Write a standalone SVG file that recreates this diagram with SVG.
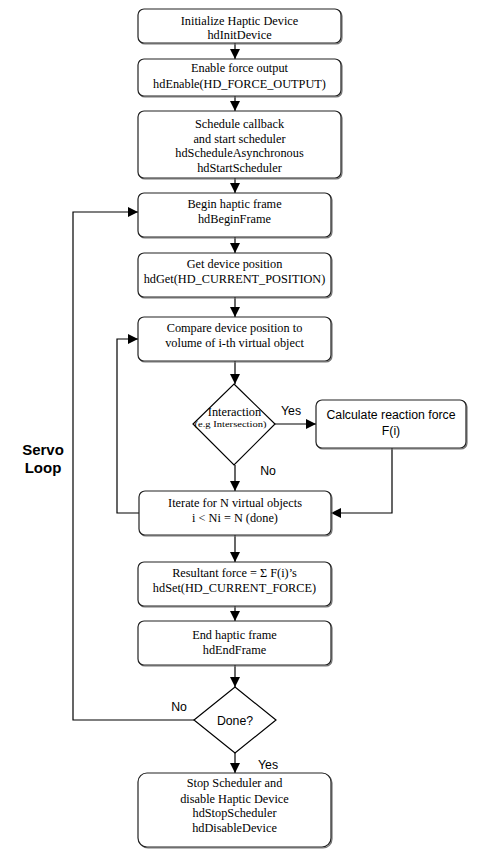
<svg xmlns="http://www.w3.org/2000/svg" width="486" height="851" viewBox="0 0 486 851">
<style>
.box{fill:#fff;stroke:#222;stroke-width:1.2}
.sh{fill:none;stroke:#777;stroke-width:1.2}
.t{font-family:"Liberation Serif","Times New Roman",serif;font-size:12.3px;fill:#000;text-anchor:middle}
.a{font-family:"Liberation Sans",Arial,sans-serif;font-size:12.3px;fill:#000;text-anchor:middle}
.c{fill:none;stroke:#000;stroke-width:1.2}
</style>
<defs>
<marker id="ah" markerUnits="userSpaceOnUse" markerWidth="11" markerHeight="10" refX="10" refY="5" orient="auto">
<path d="M0,0 L10,5 L0,10 Z" fill="#000"/>
</marker>
</defs>
<rect width="486" height="851" fill="#fff"/>
<g id="connectors">
<path class="c" d="M235,43 V59" marker-end="url(#ah)"/>
<path class="c" d="M235,96 V111" marker-end="url(#ah)"/>
<path class="c" d="M235,178 V193" marker-end="url(#ah)"/>
<path class="c" d="M235,237 V253" marker-end="url(#ah)"/>
<path class="c" d="M235,297 V317" marker-end="url(#ah)"/>
<path class="c" d="M235,361 V384" marker-end="url(#ah)"/>
<path class="c" d="M235,465 V491" marker-end="url(#ah)"/>
<path class="c" d="M235,535 V562" marker-end="url(#ah)"/>
<path class="c" d="M235,606 V621" marker-end="url(#ah)"/>
<path class="c" d="M235,665 V687" marker-end="url(#ah)"/>
<path class="c" d="M235,753 V773" marker-end="url(#ah)"/>
<path class="c" d="M275,424 H316" marker-end="url(#ah)"/>
<path class="c" d="M392,448 V513 H331" marker-end="url(#ah)"/>
<path class="c" d="M139,513 H117 V339 H138" marker-end="url(#ah)"/>
<path class="c" d="M194,720 H73 V212 H138" marker-end="url(#ah)"/>
<text class="a" x="291" y="415">Yes</text>
<text class="a" x="268" y="475">No</text>
<text class="a" x="179" y="711">No</text>
<text class="a" x="268" y="769">Yes</text>
</g>
<g id="servo-label">
<text class="a" x="43" y="455" style="font-weight:bold;font-size:15px">Servo</text>
<text class="a" x="43" y="473" style="font-weight:bold;font-size:15px">Loop</text>
</g>
<g id="n1">
<rect class="sh" x="139" y="10" width="203" height="34" rx="6"/>
<rect class="box" x="138" y="9" width="203" height="34" rx="6"/>
<text class="t" x="239.5" y="25">Initialize Haptic Device</text>
<text class="t" x="239.5" y="39">hdInitDevice</text>
</g>
<g id="n2">
<rect class="sh" x="139" y="60" width="203" height="37" rx="6"/>
<rect class="box" x="138" y="59" width="203" height="37" rx="6"/>
<text class="t" x="239.5" y="72">Enable force output</text>
<text class="t" x="239.5" y="88">hdEnable(HD_FORCE_OUTPUT)</text>
</g>
<g id="n3">
<rect class="sh" x="139" y="112" width="203" height="67" rx="6"/>
<rect class="box" x="138" y="111" width="203" height="67" rx="6"/>
<text class="t" x="239.5" y="128">Schedule callback</text>
<text class="t" x="239.5" y="143">and start scheduler</text>
<text class="t" x="239.5" y="157">hdScheduleAsynchronous</text>
<text class="t" x="239.5" y="172">hdStartScheduler</text>
</g>
<g id="n4">
<rect class="sh" x="139" y="194" width="193" height="44" rx="6"/>
<rect class="box" x="138" y="193" width="193" height="44" rx="6"/>
<text class="t" x="234.5" y="208">Begin haptic frame</text>
<text class="t" x="234.5" y="223">hdBeginFrame</text>
</g>
<g id="n5">
<rect class="sh" x="139" y="254" width="193" height="44" rx="6"/>
<rect class="box" x="138" y="253" width="193" height="44" rx="6"/>
<text class="t" x="234.5" y="268">Get device position</text>
<text class="t" x="234.5" y="283">hdGet(HD_CURRENT_POSITION)</text>
</g>
<g id="n6">
<rect class="sh" x="139" y="318" width="193" height="44" rx="6"/>
<rect class="box" x="138" y="317" width="193" height="44" rx="6"/>
<text class="t" x="234.5" y="332">Compare device position to</text>
<text class="t" x="234.5" y="347">volume of i-th virtual object</text>
</g>
<g id="d1">
<polygon points="234,384 275,424 234,465 193,424" fill="#fff" stroke="#000" stroke-width="1.2"/>
<text class="t" x="234.5" y="416">Interaction</text>
<text class="t" x="230.5" y="427" style="font-size:8.5px" textLength="72" lengthAdjust="spacingAndGlyphs">(e.g Intersection)</text>
</g>
<g id="n7">
<rect class="sh" x="317" y="401" width="150" height="48" rx="6"/>
<rect class="box" x="316" y="400" width="150" height="48" rx="6"/>
<text class="a" x="391" y="419">Calculate reaction force</text>
<text class="a" x="391" y="435">F(i)</text>
</g>
<g id="n8">
<rect class="sh" x="140" y="492" width="192" height="44" rx="6"/>
<rect class="box" x="139" y="491" width="192" height="44" rx="6"/>
<text class="t" x="235" y="507">Iterate for N virtual objects</text>
<text class="t" x="235" y="522">i &lt; Ni = N (done)</text>
</g>
<g id="n9">
<rect class="sh" x="139" y="563" width="193" height="44" rx="6"/>
<rect class="box" x="138" y="562" width="193" height="44" rx="6"/>
<text class="t" x="234.5" y="577">Resultant force = Σ F(i)’s</text>
<text class="t" x="234.5" y="592">hdSet(HD_CURRENT_FORCE)</text>
</g>
<g id="n10">
<rect class="sh" x="139" y="622" width="193" height="44" rx="6"/>
<rect class="box" x="138" y="621" width="193" height="44" rx="6"/>
<text class="t" x="234.5" y="639">End haptic frame</text>
<text class="t" x="234.5" y="654">hdEndFrame</text>
</g>
<g id="d2">
<polygon points="235,687 276,720 235,753 194,720" fill="#fff" stroke="#000" stroke-width="1.2"/>
<text class="a" x="235" y="725">Done?</text>
</g>
<g id="n11">
<rect class="sh" x="139" y="774" width="193" height="74" rx="9"/>
<rect class="box" x="138" y="773" width="193" height="74" rx="9"/>
<text class="t" x="234.5" y="787">Stop Scheduler and</text>
<text class="t" x="234.5" y="803">disable Haptic Device</text>
<text class="t" x="234.5" y="817">hdStopScheduler</text>
<text class="t" x="234.5" y="832">hdDisableDevice</text>
</g>
</svg>
